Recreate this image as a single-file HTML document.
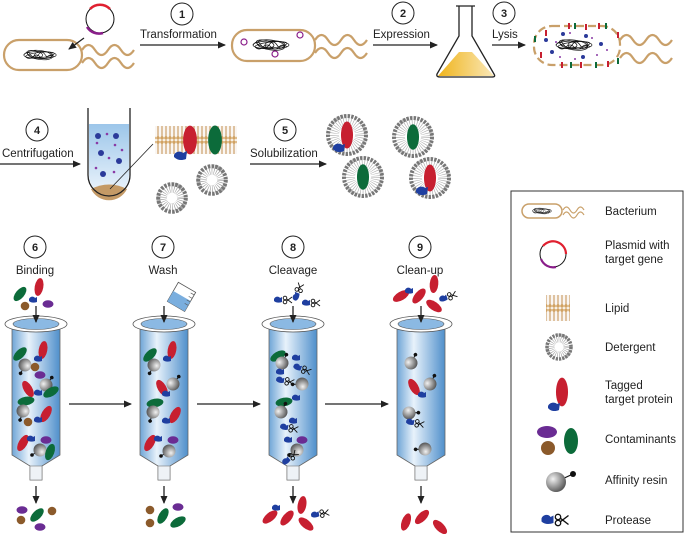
<!DOCTYPE html>
<html><head><meta charset="utf-8"><style>
html,body{margin:0;padding:0;background:#fff}
svg{display:block}
text{font-family:"Liberation Sans",sans-serif;font-size:11.5px;fill:#222}
.n{font-weight:bold;font-size:11px;text-anchor:middle}
</style></head><body>
<svg width="685" height="534" viewBox="0 0 685 534" xmlns="http://www.w3.org/2000/svg">
<defs>
<marker id="ah" markerWidth="8" markerHeight="8" refX="7" refY="4" orient="auto" markerUnits="userSpaceOnUse"><path d="M0,0.5 L8,4 L0,7.5z" fill="#222"/></marker>
<radialGradient id="ball" cx="35%" cy="35%" r="70%"><stop offset="0" stop-color="#f2f2f2"/><stop offset="1" stop-color="#555"/></radialGradient>
<linearGradient id="colg" x1="0" x2="1"><stop offset="0" stop-color="#6fa5d6"/><stop offset="0.35" stop-color="#e8f2fb"/><stop offset="1" stop-color="#4f8fcb"/></linearGradient>
<linearGradient id="liq" x1="0" y1="0" x2="0" y2="1"><stop offset="0" stop-color="#9cc6ea"/><stop offset="1" stop-color="#eef5fc"/></linearGradient>
<linearGradient id="flask" x1="0" x2="1"><stop offset="0" stop-color="#efb41c"/><stop offset="1" stop-color="#fae8b8"/></linearGradient>
<g id="res"><line x1="0" y1="0" x2="8" y2="-5" stroke="#111" stroke-width="1"/><circle cx="8" cy="-5" r="1.8" fill="#111"/><circle r="6.5" fill="url(#ball)"/></g>
<ellipse id="red" rx="4.3" ry="9" fill="#c71f30"/>
<ellipse id="grn" rx="4.3" ry="8.5" fill="#0c6b3a"/>
<ellipse id="pur" rx="5.5" ry="3.8" fill="#6a2c93"/>
<circle id="brn" r="4.3" fill="#8b5a2b"/>
<path id="tag" d="M-4,-1 C-3,-4 1,-4 2,-2 L4,-3 L4,2 C1,3 -2,3 -4,1z" fill="#1f3fa0"/>
<g id="sc"><path d="M-9,-1 C-8,-4 -4,-4 -3,-2 L-1,-3 L-1,2 C-4,3 -7,3 -9,1z" fill="#1f3fa0"/><circle cx="2" cy="-2" r="1.8" fill="none" stroke="#111" stroke-width="0.9"/><circle cx="2" cy="2" r="1.8" fill="none" stroke="#111" stroke-width="0.9"/><line x1="3.5" y1="-1.2" x2="9" y2="3" stroke="#111" stroke-width="0.9"/><line x1="3.5" y1="1.2" x2="9" y2="-3" stroke="#111" stroke-width="0.9"/></g>
<g id="mic"><circle r="9" fill="none" stroke="#999" stroke-width="9" stroke-dasharray="0.6 1.6"/><circle r="12" fill="none" stroke="#777" stroke-width="3.5" stroke-dasharray="2.2 1.1"/><circle r="3" fill="#fff"/></g>
<g id="mic2"><circle r="14" fill="none" stroke="#aaa" stroke-width="12" stroke-dasharray="0.6 1.8"/><circle r="19" fill="none" stroke="#777" stroke-width="4" stroke-dasharray="2.4 1.2"/></g>
<pattern id="lip" width="4" height="28" patternUnits="userSpaceOnUse"><line x1="1.3" y1="3" x2="1.3" y2="25" stroke="#cfa777" stroke-width="0.8"/><line x1="2.7" y1="3" x2="2.7" y2="25" stroke="#cfa777" stroke-width="0.8"/><circle cx="2" cy="2" r="1.8" fill="#d1a262"/><circle cx="2" cy="26" r="1.8" fill="#d1a262"/></pattern>
<g id="chrom" fill="none" stroke="#111" stroke-width="0.7"><ellipse rx="18" ry="4"/><ellipse rx="14" ry="5" transform="rotate(8)"/><ellipse rx="16" ry="3" transform="rotate(-6)"/><ellipse cx="4" rx="10" ry="4"/><ellipse cx="-6" rx="9" ry="3.5" transform="rotate(12)"/><path d="M-18,0 q4,-6 8,0 t8,0 t8,0 t8,0"/><path d="M-16,2 q4,4 8,0 t8,0 t8,0 t8,0"/></g>
<path id="wave" d="M0,0 q6.5,-10 13,0 t13,0 t13,0 t13,0" fill="none" stroke="#c9a06a" stroke-width="2.2"/>
<g id="col">
<path d="M-24,325 L24,325 L24,455 L6,466 L6,480 L-6,480 L-6,466 L-24,455z" fill="url(#colg)" stroke="#666" stroke-width="0.8"/>
<ellipse cx="0" cy="324" rx="31" ry="8" fill="#fff" stroke="#555" stroke-width="0.8"/>
<ellipse cx="0" cy="324" rx="23" ry="5.5" fill="#8bb9e3" stroke="#555" stroke-width="0.6"/>
<rect x="-6" y="466" width="12" height="14" fill="#eef2f6" stroke="#777" stroke-width="0.6"/>
</g>
</defs>

<!-- Row 1 -->
<rect x="4" y="40" width="78" height="30" rx="15" fill="#fff" stroke="#c9a06a" stroke-width="2.2"/>
<use href="#chrom" transform="translate(40,55) scale(0.9)"/>
<use href="#wave" transform="translate(82,50)"/>
<use href="#wave" transform="translate(82,63)"/>
<circle cx="100" cy="19" r="14" fill="none" stroke="#111" stroke-width="1"/>
<path d="M90,9 A14,14 0 0 1 110,9" fill="none" stroke="#e02030" stroke-width="2.5"/>
<path d="M87,27 A14,14 0 0 0 103,33" fill="none" stroke="#8a1e8a" stroke-width="2.5"/>
<line x1="84" y1="38" x2="69" y2="49" stroke="#222" stroke-width="1.3" marker-end="url(#ah)"/>

<circle cx="182" cy="14" r="11" fill="#fff" stroke="#222"/><text class="n" x="182" y="18">1</text>
<text x="140" y="38">Transformation</text>
<line x1="140" y1="45" x2="225" y2="45" stroke="#222" stroke-width="1.3" marker-end="url(#ah)"/>
<rect x="232" y="30" width="83" height="31" rx="15" fill="#fff" stroke="#c9a06a" stroke-width="2.2"/>
<use href="#chrom" transform="translate(271,45)"/>
<circle cx="244" cy="42" r="3" fill="none" stroke="#8a1e8a" stroke-width="1.2"/>
<circle cx="300" cy="35" r="3" fill="none" stroke="#8a1e8a" stroke-width="1.2"/>
<circle cx="275" cy="54" r="3" fill="none" stroke="#8a1e8a" stroke-width="1.2"/>
<use href="#wave" transform="translate(315,40)"/>
<use href="#wave" transform="translate(315,53)"/>

<circle cx="403" cy="13" r="11" fill="#fff" stroke="#222"/><text class="n" x="403" y="17">2</text>
<text x="373" y="38">Expression</text>
<line x1="373" y1="45" x2="437" y2="45" stroke="#222" stroke-width="1.3" marker-end="url(#ah)"/>
<path d="M459,52 L438,76 L494,76 L472,52z" fill="url(#flask)"/>
<path d="M459,6 L459,36 L437,74 Q436,77 440,77 L492,77 Q496,77 494,74 L472,36 L472,6 M456,6 L475,6" fill="none" stroke="#222" stroke-width="1.3"/>

<circle cx="504" cy="13" r="11" fill="#fff" stroke="#222"/><text class="n" x="504" y="17">3</text>
<text x="492" y="38">Lysis</text>
<line x1="492" y1="45" x2="525" y2="45" stroke="#222" stroke-width="1.3" marker-end="url(#ah)"/>
<rect x="534" y="26" width="86" height="39" rx="18" fill="none" stroke="#c9a06a" stroke-width="2.2" stroke-dasharray="8 4"/>
<use href="#chrom" transform="translate(574,45)"/>
<g fill="#2b3a9a"><circle cx="546" cy="40" r="2"/><circle cx="552" cy="52" r="2"/><circle cx="563" cy="34" r="2"/><circle cx="601" cy="44" r="2"/><circle cx="583" cy="57" r="2"/><circle cx="586" cy="36" r="2"/></g>
<g fill="#8a3aa5"><circle cx="556" cy="42" r="1"/><circle cx="570" cy="33" r="1"/><circle cx="592" cy="38" r="1"/><circle cx="597" cy="55" r="1"/><circle cx="560" cy="57" r="1"/><circle cx="607" cy="50" r="1"/><circle cx="575" cy="59" r="1"/></g>
<g fill="#c71f30"><rect x="568" y="23" width="2" height="6"/><rect x="585" y="24" width="2" height="6"/><rect x="545" y="30" width="2" height="6"/><rect x="598" y="23" width="2" height="6"/><rect x="540" y="52" width="2" height="6"/><rect x="580" y="62" width="2" height="6"/><rect x="561" y="62" width="2" height="6"/><rect x="607" y="61" width="2" height="6"/><rect x="617" y="32" width="2" height="6"/></g>
<g fill="#0c6b3a"><rect x="574" y="23" width="2" height="6"/><rect x="605" y="23" width="2" height="6"/><rect x="534" y="36" width="2" height="6"/><rect x="570" y="62" width="2" height="6"/><rect x="595" y="62" width="2" height="6"/><rect x="617" y="58" width="2" height="6"/></g>
<use href="#wave" transform="translate(620,40)"/>
<use href="#wave" transform="translate(620,58)"/>

<!-- Row 2 -->
<circle cx="37" cy="130" r="11" fill="#fff" stroke="#222"/><text class="n" x="37" y="134">4</text>
<text x="2" y="157">Centrifugation</text>
<line x1="0" y1="164" x2="80" y2="164" stroke="#222" stroke-width="1.3" marker-end="url(#ah)"/>
<path d="M89,124 L129,124 L129,175 A20,20 0 0 1 89,175z" fill="url(#liq)"/>
<path d="M91,189 Q109,180 127,189 A20,20 0 0 1 91,189z" fill="#c49a66"/>
<path d="M88,108 L88,175 A21,21 0 0 0 130,175 L130,108" fill="none" stroke="#222" stroke-width="1.3"/>
<g fill="#2b3a9a"><circle cx="98" cy="136" r="3"/><circle cx="116" cy="136" r="3"/><circle cx="101" cy="153" r="3"/><circle cx="119" cy="161" r="3"/><circle cx="103" cy="174" r="3"/></g>
<g fill="#8a3aa5"><circle cx="107" cy="134" r="1.3"/><circle cx="97" cy="143" r="1.3"/><circle cx="115" cy="145" r="1.3"/><circle cx="122" cy="150" r="1.3"/><circle cx="109" cy="158" r="1.3"/><circle cx="96" cy="168" r="1.3"/><circle cx="114" cy="172" r="1.3"/></g>
<line x1="110" y1="189" x2="153" y2="144" stroke="#222" stroke-width="0.8"/>
<rect x="155" y="126" width="82" height="28" fill="url(#lip)"/>
<use href="#red" transform="translate(190,140) scale(1.6,1.6)"/>
<path d="M174,155 C176,151 181,151 183,153 L187,151 L186,159 C181,161 177,160 174,157z" fill="#1f3fa0"/>
<use href="#grn" transform="translate(215,140) scale(1.6,1.7)"/>
<use href="#mic" transform="translate(172,198) scale(1.15)"/>
<use href="#mic" transform="translate(212,180) scale(1.15)"/>

<circle cx="285" cy="130" r="11" fill="#fff" stroke="#222"/><text class="n" x="285" y="134">5</text>
<text x="250" y="157">Solubilization</text>
<line x1="250" y1="164" x2="326" y2="164" stroke="#222" stroke-width="1.3" marker-end="url(#ah)"/>
<g transform="translate(347,135)"><use href="#mic2"/><use href="#red" transform="scale(1.4,1.5)"/><path d="M-14,12 C-12,8 -7,8 -5,10 L-2,9 L-3,16 C-7,18 -12,17 -14,14z" fill="#1f3fa0"/></g>
<g transform="translate(413,137)"><use href="#mic2"/><use href="#grn" transform="scale(1.4,1.5)"/></g>
<g transform="translate(363,177)"><use href="#mic2"/><use href="#grn" transform="scale(1.4,1.5)"/></g>
<g transform="translate(430,178)"><use href="#mic2"/><use href="#red" transform="scale(1.4,1.5)"/><path d="M-14,12 C-12,8 -7,8 -5,10 L-2,9 L-3,16 C-7,18 -12,17 -14,14z" fill="#1f3fa0"/></g>

<!-- Row 3 labels -->
<circle cx="35" cy="247" r="11" fill="#fff" stroke="#222"/><text class="n" x="35" y="251">6</text>
<text x="35" y="274" text-anchor="middle">Binding</text>
<circle cx="163" cy="247" r="11" fill="#fff" stroke="#222"/><text class="n" x="163" y="251">7</text>
<text x="163" y="274" text-anchor="middle">Wash</text>
<circle cx="293" cy="247" r="11" fill="#fff" stroke="#222"/><text class="n" x="293" y="251">8</text>
<text x="293" y="274" text-anchor="middle">Cleavage</text>
<circle cx="420" cy="247" r="11" fill="#fff" stroke="#222"/><text class="n" x="420" y="251">9</text>
<text x="420" y="274" text-anchor="middle">Clean-up</text>

<!-- columns -->
<use href="#col" transform="translate(36,0)"/>
<use href="#col" transform="translate(164,0)"/>
<use href="#col" transform="translate(293,0)"/>
<use href="#col" transform="translate(421,0)"/>
<g stroke="#222" stroke-width="1.3" marker-end="url(#ah)">
<line x1="36" y1="306" x2="36" y2="322"/><line x1="164" y1="306" x2="164" y2="322"/><line x1="293" y1="306" x2="293" y2="322"/><line x1="421" y1="306" x2="421" y2="322"/>
<line x1="36" y1="486" x2="36" y2="503"/><line x1="164" y1="486" x2="164" y2="503"/><line x1="293" y1="486" x2="293" y2="503"/><line x1="421" y1="486" x2="421" y2="503"/>
<line x1="69" y1="404" x2="131" y2="404"/><line x1="197" y1="404" x2="260" y2="404"/><line x1="325" y1="404" x2="388" y2="404"/>
</g>

<!-- col1 contents -->
<use href="#grn" transform="translate(20,294) rotate(40)"/><use href="#red" transform="translate(39,287) rotate(10)"/><use href="#tag" transform="translate(33,300)"/><use href="#brn" transform="translate(25,306)"/><use href="#pur" transform="translate(48,304)"/>
<use href="#grn" transform="translate(20,354) rotate(45)"/><use href="#red" transform="translate(43,350) rotate(10)"/><use href="#tag" transform="translate(38,359)"/><use href="#res" transform="translate(25,365) rotate(150)"/><use href="#brn" transform="translate(35,367)"/>
<use href="#pur" transform="translate(40,375)"/><use href="#red" transform="translate(28,389) rotate(-30)"/><use href="#res" transform="translate(46,385) rotate(-20)"/><use href="#tag" transform="translate(38,393)"/><use href="#grn" transform="translate(51,392) rotate(60)"/>
<use href="#grn" transform="translate(26,401) rotate(80)"/><use href="#res" transform="translate(23,411) rotate(140)"/><use href="#red" transform="translate(46,414) rotate(30)"/><use href="#tag" transform="translate(38,420)"/><use href="#brn" transform="translate(28,422)"/>
<use href="#red" transform="translate(23,443) rotate(30)"/><use href="#tag" transform="translate(31,439)"/><use href="#pur" transform="translate(46,440)"/><use href="#res" transform="translate(40,450) rotate(180)"/><use href="#grn" transform="translate(50,452) rotate(20)"/>
<use href="#pur" transform="translate(22,510)"/><use href="#grn" transform="translate(37,515) rotate(45)"/><use href="#brn" transform="translate(52,511)"/><use href="#brn" transform="translate(21,520)"/><use href="#pur" transform="translate(40,527)"/>

<!-- col2 -->
<g transform="translate(182,296) rotate(30)"><path d="M-10,-10 L10,-10 L10,12 L-10,12z" fill="#fff" stroke="#555" stroke-width="0.8"/><path d="M-10,0 L10,0 L10,12 L-10,12z" fill="#7aaede"/><g stroke="#555" stroke-width="0.6"><line x1="6" y1="-7" x2="10" y2="-7"/><line x1="6" y1="-3" x2="10" y2="-3"/><line x1="6" y1="1" x2="10" y2="1"/><line x1="6" y1="5" x2="10" y2="5"/></g></g>
<use href="#grn" transform="translate(150,355) rotate(45)"/><use href="#red" transform="translate(172,350) rotate(10)"/><use href="#tag" transform="translate(167,359)"/><use href="#res" transform="translate(154,365) rotate(150)"/>
<use href="#red" transform="translate(162,388) rotate(-30)"/><use href="#res" transform="translate(173,384) rotate(-20)"/><use href="#tag" transform="translate(166,394)"/>
<use href="#grn" transform="translate(155,403) rotate(80)"/><use href="#res" transform="translate(153,412) rotate(140)"/><use href="#red" transform="translate(175,415) rotate(30)"/><use href="#tag" transform="translate(166,421)"/>
<use href="#red" transform="translate(150,443) rotate(30)"/><use href="#tag" transform="translate(158,439)"/><use href="#pur" transform="translate(173,440)"/><use href="#res" transform="translate(169,451) rotate(180)"/>
<use href="#brn" transform="translate(150,510)"/><use href="#brn" transform="translate(150,523)"/><use href="#grn" transform="translate(163,516) rotate(30)"/><use href="#pur" transform="translate(178,507)"/><use href="#grn" transform="translate(178,522) rotate(60)"/>

<!-- col3 -->
<use href="#sc" transform="translate(283,300)"/><use href="#sc" transform="translate(298,292) rotate(-70)"/><use href="#sc" transform="translate(311,303)"/>
<use href="#grn" transform="translate(278,356) rotate(60)"/><use href="#res" transform="translate(282,363) rotate(-30)"/><use href="#tag" transform="translate(296,358)"/><use href="#sc" transform="translate(302,369) rotate(20)"/>
<use href="#tag" transform="translate(280,372)"/><use href="#sc" transform="translate(285,381) rotate(10)"/><use href="#res" transform="translate(302,384) rotate(-150)"/><use href="#tag" transform="translate(296,398)"/>
<use href="#grn" transform="translate(284,402) rotate(80)"/><use href="#res" transform="translate(281,412) rotate(-30)"/><use href="#tag" transform="translate(293,421)"/><use href="#sc" transform="translate(289,428) rotate(10)"/>
<use href="#tag" transform="translate(288,440)"/><use href="#pur" transform="translate(302,440)"/><use href="#res" transform="translate(297,450) rotate(180)"/><use href="#sc" transform="translate(290,458) rotate(-40)"/>
<use href="#red" transform="translate(270,517) rotate(50)"/><use href="#tag" transform="translate(276,508)"/><use href="#red" transform="translate(287,518) rotate(40)"/><use href="#red" transform="translate(302,505) rotate(10)"/><use href="#red" transform="translate(306,524) rotate(-50)"/><use href="#sc" transform="translate(320,514) rotate(-10)"/>

<!-- col4 -->
<use href="#red" transform="translate(401,296) rotate(60)"/><use href="#tag" transform="translate(409,291)"/><use href="#red" transform="translate(419,296) rotate(40)"/><use href="#red" transform="translate(434,284) rotate(5)"/><use href="#red" transform="translate(434,306) rotate(-55)"/><use href="#sc" transform="translate(448,297) rotate(-20)"/>
<use href="#res" transform="translate(411,363) rotate(-30)"/>
<use href="#red" transform="translate(414,387) rotate(-30)"/><use href="#res" transform="translate(430,384) rotate(-30)"/><use href="#tag" transform="translate(422,395)"/>
<use href="#res" transform="translate(409,413) rotate(30)"/><use href="#sc" transform="translate(415,423) rotate(10)"/>
<use href="#res" transform="translate(425,449) rotate(-150)"/>
<use href="#red" transform="translate(406,522) rotate(20)"/><use href="#red" transform="translate(422,517) rotate(45)"/><use href="#red" transform="translate(440,527) rotate(-45)"/>

<!-- Legend -->
<rect x="511" y="191" width="172" height="341" fill="#fff" stroke="#333" stroke-width="1"/>
<rect x="522" y="204" width="40" height="14" rx="7" fill="none" stroke="#c9a06a" stroke-width="1.5"/>
<use href="#chrom" transform="translate(542,211) scale(0.55)"/>
<path d="M563,210 q3.5,-6 7,0 t7,0 t7,0 M563,215 q3.5,-6 7,0 t7,0 t7,0" fill="none" stroke="#c9a06a" stroke-width="1.2"/>
<text x="605" y="215">Bacterium</text>
<circle cx="553" cy="254" r="13" fill="none" stroke="#111" stroke-width="1"/>
<path d="M543,246 A13,13 0 0 1 566,254" fill="none" stroke="#e02030" stroke-width="2.2"/>
<path d="M541,259 A13,13 0 0 0 556,267" fill="none" stroke="#8a1e8a" stroke-width="2.2"/>
<text x="605" y="249">Plasmid with</text><text x="605" y="263">target gene</text>
<rect x="546" y="295" width="24" height="26" fill="url(#lip)"/>
<text x="605" y="312">Lipid</text>
<use href="#mic" transform="translate(559,347)"/>
<text x="605" y="351">Detergent</text>
<g transform="translate(562,392)"><use href="#red" transform="scale(1.4,1.6)"/><path d="M-14,14 C-12,10 -7,10 -5,12 L-2,11 L-3,18 C-7,20 -12,19 -14,16z" fill="#1f3fa0"/></g>
<text x="605" y="389">Tagged</text><text x="605" y="403">target protein</text>
<ellipse cx="547" cy="432" rx="10" ry="6" fill="#6a2c93"/><circle cx="548" cy="448" r="7" fill="#8b5a2b"/><ellipse cx="571" cy="441" rx="7" ry="13" fill="#0c6b3a"/>
<text x="605" y="443">Contaminants</text>
<line x1="560" y1="480" x2="573" y2="474" stroke="#111" stroke-width="1.2"/><circle cx="573" cy="474" r="3" fill="#111"/>
<circle cx="556" cy="482" r="10" fill="url(#ball)"/>
<text x="605" y="484">Affinity resin</text>
<use href="#sc" transform="translate(555,520) scale(1.5)"/>
<text x="605" y="524">Protease</text>
</svg>
</body></html>
